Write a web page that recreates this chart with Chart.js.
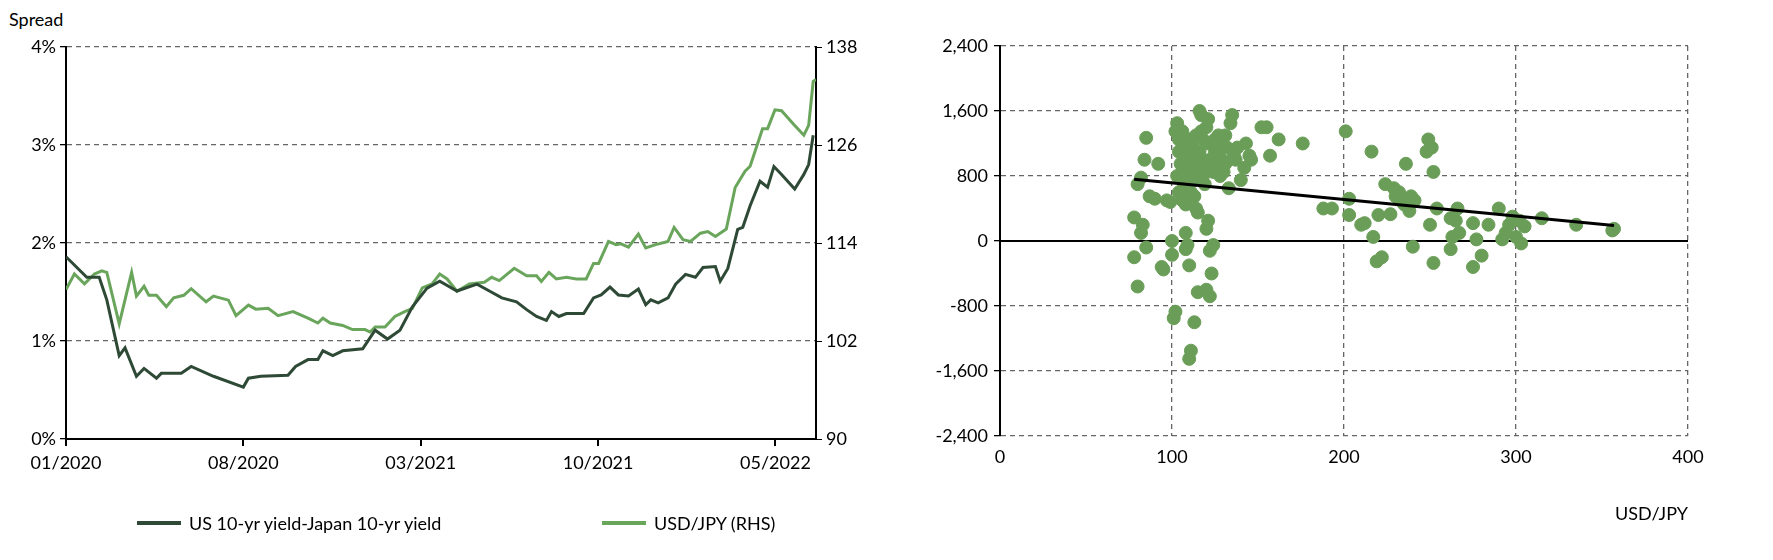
<!DOCTYPE html>
<html><head><meta charset="utf-8">
<script src="https://cdn.jsdelivr.net/npm/chart.js@4.4.0/dist/chart.umd.min.js"></script>
<style>
body{margin:0;width:1773px;height:560px;background:#fff;position:relative;font-family:Lato,sans-serif;overflow:hidden}
#c1w{position:absolute;left:0;top:0;width:880px;height:560px}
#c2w{position:absolute;left:930px;top:0;width:843px;height:560px}
.t{position:absolute;font-size:18px;color:#000}
.lg{position:absolute;top:512px;font-size:18px;display:flex;align-items:center}
.lg span{display:inline-block;width:44px;height:4px;margin-right:8px}
</style></head><body>
<div class="t" style="left:9px;top:8px">Spread</div>
<div id="c1w"><canvas id="c1" width="880" height="560" style="width:880px;height:560px"></canvas></div>
<div id="c2w"><canvas id="c2" width="843" height="560" style="width:843px;height:560px"></canvas></div>
<div class="lg" style="left:137px"><span style="background:#2e4a36"></span>US 10-yr yield-Japan 10-yr yield</div>
<div class="lg" style="left:602px"><span style="background:#6aa55c"></span>USD/JPY (RHS)</div>
<script>
// months since 01/2020
const spreadX=[0,0.82,1.31,1.61,2.10,2.33,2.78,3.08,3.57,3.76,4.55,4.94,5.82,7.0,7.2,7.69,8.76,9.06,9.55,9.94,10.14,10.53,10.92,11.71,12.2,12.69,13.18,13.67,14.25,14.75,15.43,16.22,16.71,17.2,17.78,18.18,18.57,18.96,19.16,19.45,19.75,20.43,20.82,21.12,21.47,21.8,22.2,22.59,22.88,23.08,23.37,23.76,24.06,24.45,24.84,25.14,25.63,25.82,26.12,26.51,26.71,27.0,27.39,27.69,27.94,28.24,28.76,29.12,29.31,29.49];
const spreadY=[1.86,1.65,1.65,1.42,0.85,0.93,0.64,0.72,0.62,0.67,0.67,0.74,0.64,0.53,0.62,0.64,0.65,0.74,0.81,0.81,0.9,0.85,0.9,0.92,1.11,1.02,1.11,1.35,1.54,1.61,1.51,1.58,1.51,1.44,1.40,1.32,1.25,1.21,1.30,1.25,1.28,1.28,1.44,1.47,1.55,1.47,1.46,1.53,1.37,1.42,1.39,1.44,1.58,1.68,1.65,1.75,1.76,1.61,1.74,2.14,2.16,2.38,2.63,2.57,2.78,2.70,2.55,2.70,2.80,3.10];
const fxX=[0,0.33,0.73,1.12,1.41,1.61,2.10,2.59,2.78,3.08,3.27,3.57,3.96,4.25,4.65,4.94,5.53,5.82,6.41,6.71,7.2,7.49,7.98,8.37,8.96,9.55,9.94,10.14,10.43,10.92,11.31,11.8,12.0,12.2,12.59,12.98,13.37,13.67,14.06,14.45,14.75,15.04,15.43,15.92,16.51,16.8,17.1,17.69,18.18,18.57,18.76,19.06,19.35,19.75,20.14,20.53,20.82,21.02,21.41,21.71,21.9,22.2,22.59,22.88,23.27,23.76,24.0,24.35,24.65,25.04,25.33,25.63,26.06,26.41,26.8,27.0,27.49,27.69,27.98,28.24,28.76,29.12,29.31,29.49,29.6];
const fxY=[108.3,110.2,109.0,110.2,110.6,110.4,104.1,110.4,107.5,108.7,107.6,107.6,106.2,107.3,107.6,108.4,106.8,107.5,107.0,105.1,106.4,105.9,106.0,105.1,105.6,104.8,104.2,104.8,104.2,103.9,103.4,103.4,103.1,103.7,103.7,105.0,105.6,106.0,108.5,109.0,110.2,109.6,108.1,109.0,109.2,109.8,109.4,110.9,110.0,110.0,109.3,110.4,109.6,109.8,109.6,109.6,111.5,111.5,114.2,113.8,113.9,113.5,115.1,113.4,113.8,114.2,115.9,114.4,114.2,115.2,115.4,114.8,115.7,120.8,122.8,123.4,128.0,128.0,130.3,130.2,128.4,127.2,128.4,133.8,134.0];
const xTickLabels={0:'01/2020',7:'08/2020',14:'03/2021',21:'10/2021',28:'05/2022'};
const scatter=[[78,290],[78,-200],[80,-560],[82,100],[83,200],[85,-80],[80,700],[82,780],[84,1000],[85,1270],[87,550],[90,520],[92,950],[94,-320],[95,-350],[97,500],[99,480],[100,0],[100,-170],[101,-950],[102,-870],[103,1450],[104,1250],[104,1100],[105,1300],[106,1200],[107,700],[108,100],[108,-100],[109,-50],[110,-300],[110,-1450],[111,-1350],[112,1150],[113,-1000],[113,550],[114,400],[115,350],[115,-630],[116,1600],[117,1350],[118,1000],[118,800],[119,900],[120,-600],[120,150],[121,250],[121,1500],[122,-680],[122,-120],[123,-400],[124,-50],[125,1250],[125,1100],[126,950],[127,1200],[128,800],[129,1000],[130,850],[131,1300],[132,1150],[133,650],[134,1450],[135,1550],[136,1050],[137,1000],[138,1150],[140,750],[142,900],[143,1200],[145,1050],[146,1000],[152,1400],[155,1400],[157,1050],[162,1250],[176,1200],[188,400],[193,400],[201,1350],[203,520],[203,320],[210,200],[212,220],[216,1100],[217,50],[219,-250],[220,320],[222,-200],[224,700],[227,330],[229,650],[230,550],[232,600],[233,500],[235,450],[236,950],[238,370],[239,550],[240,-70],[241,500],[248,1100],[249,1250],[250,200],[251,1150],[252,850],[252,-270],[254,400],[262,280],[262,-100],[263,50],[265,250],[266,400],[267,100],[275,220],[275,-320],[277,20],[280,-180],[284,200],[290,400],[292,20],[294,100],[296,200],[298,300],[300,50],[302,250],[303,-30],[305,180],[315,280],[335,200],[357,150],[356,130],[106,1350],[108,1150],[110,1250],[112,1000],[114,1300],[116,1100],[118,1250],[120,1400],[122,1000],[124,850],[126,1100],[103,800],[105,950],[107,1050],[109,850],[111,600],[113,750],[115,900],[117,1550],[119,700],[121,1200],[123,900],[127,1300],[129,1150],[131,950],[102,1350],[104,600],[106,500],[108,450],[110,900]];
const trend=[[78,760],[357,190]];
const spreadTicks=[0,1,2,3,4];
const fxTicks=[90,102,114,126,138];
const scTicksY=[-2400,-1600,-800,0,800,1600,2400];

Chart.defaults.font.family='Lato, sans-serif';
Chart.defaults.font.size=18;
Chart.defaults.color='#000';
Chart.defaults.animation=false;

new Chart(document.getElementById('c1'),{
 type:'line',
 data:{datasets:[
  {data:spreadX.map((x,i)=>({x,y:spreadY[i]})),borderColor:'#2e4a36',borderWidth:3,pointRadius:0,yAxisID:'y',tension:0},
  {data:fxX.map((x,i)=>({x,y:fxY[i]})),borderColor:'#6aa55c',borderWidth:3,pointRadius:0,yAxisID:'y2',tension:0}
 ]},
 options:{responsive:false,maintainAspectRatio:false,devicePixelRatio:1,
  layout:{padding:{top:47,left:0,right:0,bottom:0}},
  plugins:{legend:{display:false},tooltip:{enabled:false}},
  scales:{
   x:{type:'linear',min:0,max:29.6,afterBuildTicks:s=>{s.ticks=[0,7,14,21,28].map(v=>({value:v}))},
     ticks:{callback:v=>xTickLabels[v]||'',maxRotation:0,padding:6},
     grid:{drawOnChartArea:false,color:'#000',tickLength:7,lineWidth:2},border:{color:'#000',width:2},
     afterFit:s=>{s.height=121}},
   y:{position:'left',min:0,max:4,afterBuildTicks:s=>{s.ticks=spreadTicks.map(v=>({value:v}))},
     ticks:{callback:v=>v+'%',padding:4},
     grid:{color:'#666',lineWidth:1.3,tickLength:6,tickColor:'#000',tickBorderDash:[]},border:{color:'#000',width:2,dash:[5,4]},
     afterFit:s=>{s.width=66}},
   y2:{position:'right',min:90,max:138,afterBuildTicks:s=>{s.ticks=fxTicks.map(v=>({value:v}))},
     ticks:{padding:4},grid:{drawOnChartArea:false,color:'#000',tickLength:6},border:{color:'#000',width:2},
     afterFit:s=>{s.width=64}}
  }}
});

new Chart(document.getElementById('c2'),{
 type:'scatter',
 data:{datasets:[
  {type:'line',data:trend.map(p=>({x:p[0],y:p[1]})),borderColor:'#000',borderWidth:3,pointRadius:0,order:0},
  {data:scatter.map(p=>({x:p[0],y:p[1]})),backgroundColor:'#6a9e58',borderColor:'#6a9e58',pointRadius:6.5,order:1}
 ]},
 options:{responsive:false,maintainAspectRatio:false,devicePixelRatio:1,
  layout:{padding:{top:46,left:0,right:85,bottom:35}},
  plugins:{legend:{display:false},tooltip:{enabled:false}},
  scales:{
   x:{type:'linear',min:0,max:400,ticks:{stepSize:100,maxRotation:0,padding:10},
     grid:{color:'#666',lineWidth:1.3,drawTicks:false},border:{display:false,dash:[5,4]},
     title:{display:true,text:'USD/JPY',align:'end',font:{size:18},padding:0},
     afterFit:s=>{s.height=89}},
   y:{min:-2400,max:2400,afterBuildTicks:s=>{s.ticks=scTicksY.map(v=>({value:v}))},
     ticks:{callback:v=>v.toLocaleString('en-US'),padding:6},
     grid:{color:'#666',lineWidth:1.3,tickLength:6,tickColor:'#000',tickBorderDash:[]},
     border:{color:'#000',width:2,dash:[5,4]},
     afterFit:s=>{s.width=70}}
  }},
 plugins:[{id:'zero',beforeDatasetsDraw(ch){const {ctx,chartArea:a,scales:{y}}=ch;const py=y.getPixelForValue(0);ctx.save();ctx.strokeStyle='#000';ctx.lineWidth=2;ctx.beginPath();ctx.moveTo(a.left,py);ctx.lineTo(a.right,py);ctx.stroke();ctx.restore();}}]
});
</script>
</body></html>
